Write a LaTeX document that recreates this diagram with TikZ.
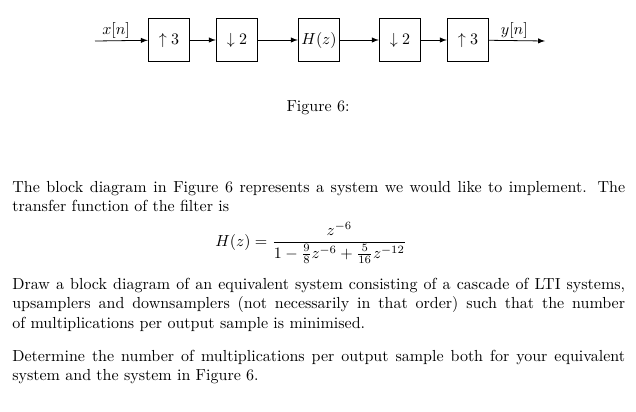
\documentclass[tikz,border=0pt]{standalone}
\usepackage{amsmath}
\begin{document}
\begin{tikzpicture}[x=0.625pt,y=-0.625pt,
 blk/.style={draw,line width=0.5pt,minimum width=26pt,minimum height=27pt,inner sep=0pt},
 arr/.style={-latex,line width=0.5pt},
 para/.style={text width=383pt,align=justify,inner sep=0pt,anchor=north west}]
\useasboundingbox (0,0) rectangle (636,411);
\coordinate (in) at (95,41);
\coordinate (out) at (545,41);
\node[blk] (b1) at (169,40) {$\uparrow 3$};
\node[blk] (b2) at (237,40) {$\downarrow 2$};
\node[blk] (b3) at (319,40) {$H(z)$};
\node[blk] (b4) at (400,40) {$\downarrow 2$};
\node[blk] (b5) at (468,40) {$\uparrow 3$};
\draw[arr] (in) -- node[above,pos=0.4,inner sep=1pt]{$x[n]$} (b1);
\draw[arr] (b1) -- (b2);
\draw[arr] (b2) -- (b3);
\draw[arr] (b3) -- (b4);
\draw[arr] (b4) -- (b5);
\draw[arr] (b5) -- node[above,pos=0.45,inner sep=1pt]{$y[n]$} (out);
\node (cap) at (318,108) {Figure 6:};
\node[para] (p1) at (12,181) {The block diagram in Figure 6 represents a system we would like to implement. The\linebreak transfer function of the filter is};
\node (eq) at (311,243) {$H(z)=\dfrac{z^{-6}}{1-\frac{9}{8}z^{-6}+\frac{5}{16}z^{-12}}$};
\node[para] (p2) at (12,278) {Draw a block diagram of an equivalent system consisting of a cascade of LTI systems,\linebreak upsamplers and downsamplers (not necessarily in that order) such that the number\linebreak of multiplications per output sample is minimised.};
\node[para] (p3) at (12,350) {Determine the number of multiplications per output sample both for your equivalent\linebreak system and the system in Figure 6.};
\end{tikzpicture}
\end{document}
